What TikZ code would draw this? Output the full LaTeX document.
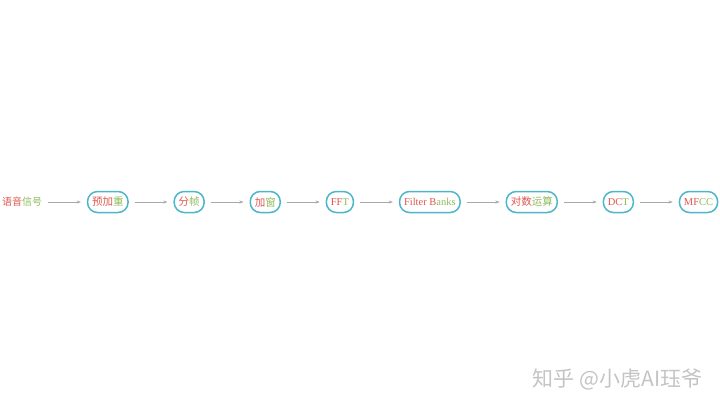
\documentclass[tikz,border=0pt]{standalone}
\usepackage{fontspec}
\setmainfont{Liberation Serif}
\newfontfamily\cjk{Noto Sans CJK SC}
\usetikzlibrary{positioning,arrows.meta}
\definecolor{pillblue}{HTML}{4DB6C8}
\definecolor{lblred}{HTML}{E0574F}
\definecolor{lblgreen}{HTML}{8FBB5C}
\definecolor{arrowgray}{HTML}{A8A8A8}
\definecolor{markgray}{HTML}{C4C4C4}
\newcommand{\duo}[2]{\textcolor{lblred}{#1}\textcolor{lblgreen}{#2}}
\tikzset{
  pill/.style={draw=pillblue,line width=1.5pt,rounded corners=10pt,
    minimum height=21pt,inner xsep=4.5pt,inner ysep=3pt,
    font=\fontsize{10.5}{12}\selectfont},
  flow/.style={draw=arrowgray,line width=0.6pt,shorten <=6pt,shorten >=6pt,
    -{Stealth[length=4pt,width=3pt]}}
}
\begin{document}
\begin{tikzpicture}[x=1pt,y=1pt,node distance=44.6pt]
\useasboundingbox[fill=white] (0,0) rectangle (720,405);
% signal chain
\node[inner sep=0pt,font=\fontsize{10}{12}\selectfont\cjk] (sig) at (22,203) {\duo{语音}{信号}};
\node[pill,right=of sig] (pre) {\cjk\duo{预加}{重}};
\node[pill,right=of pre] (frm) {\cjk\duo{分}{帧}};
\node[pill,right=of frm] (win) {\cjk\duo{加}{窗}};
\node[pill,right=of win] (fft) {\duo{FF}{T}};
\node[pill,right=of fft] (fbk) {\duo{Filter B}{anks}};
\node[pill,right=of fbk] (log) {\cjk\duo{对数}{运算}};
\node[pill,right=of log] (dct) {\duo{DC}{T}};
\node[pill,right=of dct] (mfcc) {\duo{MF}{CC}};
\foreach \a/\b in {sig/pre,pre/frm,frm/win,win/fft,fft/fbk,fbk/log,log/dct,dct/mfcc}
  \draw[flow] (\a) -- (\b);
% watermark
\node[anchor=east,text=markgray,font=\fontsize{21}{24}\selectfont\cjk] (mark) at (706,26) {知乎 @小虎AI珏爷};
\end{tikzpicture}
\end{document}
